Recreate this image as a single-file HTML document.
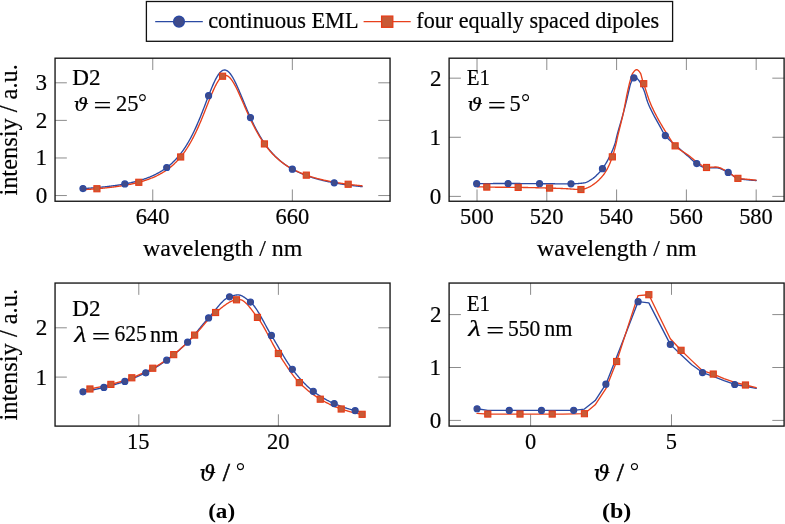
<!DOCTYPE html>
<html><head><meta charset="utf-8"><title>figure</title>
<style>html,body{margin:0;padding:0;background:#fff;width:785px;height:524px;overflow:hidden}text{fill:#000;stroke:#000;stroke-width:0.18px}text[font-weight=bold]{stroke-width:0}text.sl{stroke-width:0.55px}text.dg{stroke-width:0}</style>
</head><body>
<svg width="785" height="524" viewBox="0 0 785 524" font-family="'Liberation Serif', 'Times New Roman', serif" style="display:block">
<rect width="785" height="524" fill="#fff"/>
<rect x="146.4" y="1.5" width="526.2" height="39.8" fill="#fff" stroke="#111" stroke-width="1.3"/>
<line x1="155.2" y1="21.6" x2="202.8" y2="21.6" stroke="#2b4aa3" stroke-width="1.3"/>
<circle cx="179.0" cy="21.65" r="5.4" fill="#3f4b8a" stroke="#2a48a3" stroke-width="1.3"/>
<text transform="translate(208.15 27.55) scale(1.0127 1.0471)" font-size="22">continuous EML</text>
<line x1="363.6" y1="21.6" x2="410.7" y2="21.6" stroke="#e8401c" stroke-width="1.3"/>
<rect x="381.6" y="16.1" width="11.2" height="11.2" fill="#c85a36" stroke="#e53c18" stroke-width="1.3"/>
<text transform="translate(416.31 27.55) scale(1.0061 1.0040)" font-size="22">four equally spaced dipoles</text>
<line x1="152.76" y1="201.25" x2="152.76" y2="189.45" stroke="#8c8c8c" stroke-width="1"/>
<line x1="152.76" y1="58.20" x2="152.76" y2="70.00" stroke="#8c8c8c" stroke-width="1"/>
<line x1="292.34" y1="201.25" x2="292.34" y2="189.45" stroke="#8c8c8c" stroke-width="1"/>
<line x1="292.34" y1="58.20" x2="292.34" y2="70.00" stroke="#8c8c8c" stroke-width="1"/>
<line x1="55.05" y1="195.55" x2="66.85" y2="195.55" stroke="#8c8c8c" stroke-width="1"/>
<line x1="390.05" y1="195.55" x2="378.25" y2="195.55" stroke="#8c8c8c" stroke-width="1"/>
<line x1="55.05" y1="157.97" x2="66.85" y2="157.97" stroke="#8c8c8c" stroke-width="1"/>
<line x1="390.05" y1="157.97" x2="378.25" y2="157.97" stroke="#8c8c8c" stroke-width="1"/>
<line x1="55.05" y1="120.39" x2="66.85" y2="120.39" stroke="#8c8c8c" stroke-width="1"/>
<line x1="390.05" y1="120.39" x2="378.25" y2="120.39" stroke="#8c8c8c" stroke-width="1"/>
<line x1="55.05" y1="82.81" x2="66.85" y2="82.81" stroke="#8c8c8c" stroke-width="1"/>
<line x1="390.05" y1="82.81" x2="378.25" y2="82.81" stroke="#8c8c8c" stroke-width="1"/>
<path d="M82.97,188.61 L83.53,188.57 L84.09,188.54 L84.65,188.50 L85.20,188.46 L85.76,188.43 L86.32,188.39 L86.88,188.35 L87.44,188.31 L88.00,188.27 L88.56,188.23 L89.12,188.19 L89.68,188.15 L90.24,188.11 L90.80,188.07 L91.36,188.02 L91.92,187.98 L92.48,187.94 L93.04,187.89 L93.60,187.85 L94.16,187.80 L94.72,187.75 L95.27,187.71 L95.83,187.66 L96.39,187.61 L96.95,187.56 L97.51,187.51 L98.07,187.46 L98.63,187.41 L99.19,187.36 L99.75,187.31 L100.31,187.25 L100.87,187.20 L101.43,187.14 L101.99,187.09 L102.55,187.03 L103.11,186.98 L103.67,186.92 L104.23,186.86 L104.79,186.80 L105.34,186.74 L105.90,186.68 L106.46,186.61 L107.02,186.55 L107.58,186.49 L108.14,186.42 L108.70,186.35 L109.26,186.29 L109.82,186.22 L110.38,186.15 L110.94,186.08 L111.50,186.01 L112.06,185.94 L112.62,185.86 L113.18,185.79 L113.74,185.71 L114.30,185.64 L114.86,185.56 L115.41,185.48 L115.97,185.40 L116.53,185.32 L117.09,185.23 L117.65,185.15 L118.21,185.06 L118.77,184.98 L119.33,184.89 L119.89,184.80 L120.45,184.71 L121.01,184.61 L121.57,184.52 L122.13,184.42 L122.69,184.33 L123.25,184.23 L123.81,184.13 L124.37,184.02 L124.93,183.92 L125.49,183.82 L126.04,183.71 L126.60,183.60 L127.16,183.49 L127.72,183.38 L128.28,183.26 L128.84,183.15 L129.40,183.03 L129.96,182.91 L130.52,182.79 L131.08,182.66 L131.64,182.53 L132.20,182.41 L132.76,182.28 L133.32,182.14 L133.88,182.01 L134.44,181.87 L135.00,181.73 L135.56,181.59 L136.11,181.44 L136.67,181.29 L137.23,181.14 L137.79,180.99 L138.35,180.84 L138.91,180.68 L139.47,180.52 L140.03,180.35 L140.59,180.19 L141.15,180.02 L141.71,179.84 L142.27,179.67 L142.83,179.49 L143.39,179.30 L143.95,179.12 L144.51,178.93 L145.07,178.74 L145.63,178.54 L146.18,178.34 L146.74,178.13 L147.30,177.93 L147.86,177.71 L148.42,177.50 L148.98,177.28 L149.54,177.05 L150.10,176.83 L150.66,176.59 L151.22,176.35 L151.78,176.11 L152.34,175.87 L152.90,175.61 L153.46,175.36 L154.02,175.10 L154.58,174.83 L155.14,174.56 L155.70,174.28 L156.25,174.00 L156.81,173.71 L157.37,173.41 L157.93,173.11 L158.49,172.80 L159.05,172.49 L159.61,172.17 L160.17,171.85 L160.73,171.51 L161.29,171.17 L161.85,170.83 L162.41,170.47 L162.97,170.11 L163.53,169.74 L164.09,169.36 L164.65,168.98 L165.21,168.59 L165.77,168.19 L166.33,167.78 L166.88,167.36 L167.44,166.93 L168.00,166.49 L168.56,166.05 L169.12,165.59 L169.68,165.13 L170.24,164.65 L170.80,164.17 L171.36,163.67 L171.92,163.16 L172.48,162.64 L173.04,162.11 L173.60,161.57 L174.16,161.02 L174.72,160.45 L175.28,159.88 L175.84,159.29 L176.40,158.68 L176.95,158.07 L177.51,157.44 L178.07,156.79 L178.63,156.13 L179.19,155.46 L179.75,154.77 L180.31,154.07 L180.87,153.35 L181.43,152.62 L181.99,151.87 L182.55,151.10 L183.11,150.32 L183.67,149.52 L184.23,148.70 L184.79,147.87 L185.35,147.02 L185.91,146.15 L186.47,145.26 L187.02,144.35 L187.58,143.42 L188.14,142.48 L188.70,141.51 L189.26,140.53 L189.82,139.52 L190.38,138.50 L190.94,137.45 L191.50,136.39 L192.06,135.30 L192.62,134.20 L193.18,133.07 L193.74,131.93 L194.30,130.76 L194.86,129.57 L195.42,128.36 L195.98,127.14 L196.54,125.89 L197.09,124.62 L197.65,123.34 L198.21,122.03 L198.77,120.71 L199.33,119.37 L199.89,118.02 L200.45,116.64 L201.01,115.26 L201.57,113.86 L202.13,112.44 L202.69,111.02 L203.25,109.58 L203.81,108.13 L204.37,106.68 L204.93,105.22 L205.49,103.76 L206.05,102.29 L206.61,100.83 L207.17,99.36 L207.72,97.91 L208.28,96.45 L208.84,95.01 L209.40,93.58 L209.96,92.16 L210.52,90.76 L211.08,89.38 L211.64,88.02 L212.20,86.69 L212.76,85.38 L213.32,84.11 L213.88,82.88 L214.44,81.69 L215.00,80.53 L215.56,79.42 L216.12,78.36 L216.68,77.36 L217.24,76.40 L217.79,75.50 L218.35,74.67 L218.91,73.89 L219.47,73.18 L220.03,72.54 L220.59,71.97 L221.15,71.46 L221.71,71.03 L222.27,70.68 L222.83,70.40 L223.39,70.19 L223.95,70.06 L224.51,70.01 L225.07,70.03 L225.63,70.13 L226.19,70.31 L226.75,70.56 L227.31,70.88 L227.86,71.27 L228.42,71.74 L228.98,72.27 L229.54,72.87 L230.10,73.53 L230.66,74.25 L231.22,75.04 L231.78,75.88 L232.34,76.77 L232.90,77.71 L233.46,78.71 L234.02,79.74 L234.58,80.82 L235.14,81.93 L235.70,83.09 L236.26,84.27 L236.82,85.48 L237.38,86.72 L237.93,87.99 L238.49,89.27 L239.05,90.57 L239.61,91.89 L240.17,93.22 L240.73,94.56 L241.29,95.91 L241.85,97.26 L242.41,98.62 L242.97,99.98 L243.53,101.34 L244.09,102.70 L244.65,104.06 L245.21,105.41 L245.77,106.75 L246.33,108.08 L246.89,109.41 L247.45,110.73 L248.01,112.03 L248.56,113.32 L249.12,114.60 L249.68,115.87 L250.24,117.12 L250.80,118.36 L251.36,119.58 L251.92,120.78 L252.48,121.97 L253.04,123.14 L253.60,124.30 L254.16,125.43 L254.72,126.55 L255.28,127.66 L255.84,128.74 L256.40,129.81 L256.96,130.86 L257.52,131.89 L258.08,132.90 L258.63,133.90 L259.19,134.88 L259.75,135.84 L260.31,136.78 L260.87,137.70 L261.43,138.61 L261.99,139.51 L262.55,140.38 L263.11,141.24 L263.67,142.08 L264.23,142.91 L264.79,143.72 L265.35,144.52 L265.91,145.30 L266.47,146.06 L267.03,146.81 L267.59,147.55 L268.15,148.27 L268.70,148.98 L269.26,149.67 L269.82,150.35 L270.38,151.02 L270.94,151.67 L271.50,152.31 L272.06,152.94 L272.62,153.56 L273.18,154.16 L273.74,154.75 L274.30,155.33 L274.86,155.90 L275.42,156.46 L275.98,157.01 L276.54,157.55 L277.10,158.07 L277.66,158.59 L278.22,159.09 L278.77,159.59 L279.33,160.08 L279.89,160.56 L280.45,161.03 L281.01,161.49 L281.57,161.94 L282.13,162.38 L282.69,162.81 L283.25,163.24 L283.81,163.66 L284.37,164.07 L284.93,164.47 L285.49,164.87 L286.05,165.26 L286.61,165.64 L287.17,166.01 L287.73,166.38 L288.29,166.74 L288.85,167.09 L289.40,167.44 L289.96,167.78 L290.52,168.12 L291.08,168.45 L291.64,168.77 L292.20,169.09 L292.76,169.40 L293.32,169.71 L293.88,170.01 L294.44,170.30 L295.00,170.60 L295.56,170.88 L296.12,171.16 L296.68,171.44 L297.24,171.71 L297.80,171.98 L298.36,172.24 L298.92,172.50 L299.47,172.75 L300.03,173.00 L300.59,173.25 L301.15,173.49 L301.71,173.73 L302.27,173.96 L302.83,174.19 L303.39,174.42 L303.95,174.64 L304.51,174.86 L305.07,175.07 L305.63,175.28 L306.19,175.49 L306.75,175.70 L307.31,175.90 L307.87,176.10 L308.43,176.30 L308.99,176.49 L309.54,176.68 L310.10,176.87 L310.66,177.05 L311.22,177.23 L311.78,177.41 L312.34,177.59 L312.90,177.76 L313.46,177.93 L314.02,178.10 L314.58,178.26 L315.14,178.43 L315.70,178.59 L316.26,178.75 L316.82,178.90 L317.38,179.06 L317.94,179.21 L318.50,179.36 L319.06,179.51 L319.61,179.65 L320.17,179.80 L320.73,179.94 L321.29,180.08 L321.85,180.21 L322.41,180.35 L322.97,180.48 L323.53,180.62 L324.09,180.75 L324.65,180.87 L325.21,181.00 L325.77,181.13 L326.33,181.25 L326.89,181.37 L327.45,181.49 L328.01,181.61 L328.57,181.73 L329.13,181.84 L329.69,181.96 L330.24,182.07 L330.80,182.18 L331.36,182.29 L331.92,182.40 L332.48,182.50 L333.04,182.61 L333.60,182.71 L334.16,182.82 L334.72,182.92 L335.28,183.02 L335.84,183.12 L336.40,183.22 L336.96,183.31 L337.52,183.41 L338.08,183.50 L338.64,183.60 L339.20,183.69 L339.76,183.78 L340.31,183.87 L340.87,183.96 L341.43,184.05 L341.99,184.13 L342.55,184.22 L343.11,184.30 L343.67,184.39 L344.23,184.47 L344.79,184.55 L345.35,184.63 L345.91,184.71 L346.47,184.79 L347.03,184.87 L347.59,184.95 L348.15,185.02 L348.71,185.10 L349.27,185.17 L349.83,185.25 L350.38,185.32 L350.94,185.39 L351.50,185.47 L352.06,185.54 L352.62,185.61 L353.18,185.68 L353.74,185.74 L354.30,185.81 L354.86,185.88 L355.42,185.95 L355.98,186.01 L356.54,186.08 L357.10,186.14 L357.66,186.20 L358.22,186.27 L358.78,186.33 L359.34,186.39 L359.90,186.45 L360.45,186.51 L361.01,186.57 L361.57,186.63 L362.13,186.69" fill="none" stroke="#2b4aa3" stroke-width="1.35" stroke-linejoin="round" stroke-linecap="round"/>
<path d="M82.97,189.73 L83.53,189.69 L84.09,189.66 L84.65,189.62 L85.20,189.59 L85.76,189.55 L86.32,189.51 L86.88,189.48 L87.44,189.44 L88.00,189.40 L88.56,189.36 L89.12,189.33 L89.68,189.29 L90.24,189.25 L90.80,189.21 L91.36,189.17 L91.92,189.12 L92.48,189.08 L93.04,189.04 L93.60,189.00 L94.16,188.95 L94.72,188.91 L95.27,188.86 L95.83,188.82 L96.39,188.77 L96.95,188.73 L97.51,188.68 L98.07,188.63 L98.63,188.58 L99.19,188.53 L99.75,188.48 L100.31,188.43 L100.87,188.38 L101.43,188.33 L101.99,188.28 L102.55,188.22 L103.11,188.17 L103.67,188.11 L104.23,188.06 L104.79,188.00 L105.34,187.94 L105.90,187.88 L106.46,187.83 L107.02,187.77 L107.58,187.70 L108.14,187.64 L108.70,187.58 L109.26,187.52 L109.82,187.45 L110.38,187.39 L110.94,187.32 L111.50,187.25 L112.06,187.19 L112.62,187.12 L113.18,187.05 L113.74,186.97 L114.30,186.90 L114.86,186.83 L115.41,186.75 L115.97,186.68 L116.53,186.60 L117.09,186.52 L117.65,186.44 L118.21,186.36 L118.77,186.28 L119.33,186.20 L119.89,186.11 L120.45,186.03 L121.01,185.94 L121.57,185.85 L122.13,185.76 L122.69,185.67 L123.25,185.58 L123.81,185.49 L124.37,185.39 L124.93,185.29 L125.49,185.19 L126.04,185.09 L126.60,184.99 L127.16,184.89 L127.72,184.78 L128.28,184.68 L128.84,184.57 L129.40,184.46 L129.96,184.34 L130.52,184.23 L131.08,184.11 L131.64,183.99 L132.20,183.87 L132.76,183.75 L133.32,183.63 L133.88,183.50 L134.44,183.37 L135.00,183.24 L135.56,183.11 L136.11,182.97 L136.67,182.84 L137.23,182.70 L137.79,182.55 L138.35,182.41 L138.91,182.26 L139.47,182.11 L140.03,181.96 L140.59,181.80 L141.15,181.64 L141.71,181.48 L142.27,181.32 L142.83,181.15 L143.39,180.98 L143.95,180.80 L144.51,180.63 L145.07,180.45 L145.63,180.26 L146.18,180.08 L146.74,179.89 L147.30,179.69 L147.86,179.49 L148.42,179.29 L148.98,179.09 L149.54,178.88 L150.10,178.66 L150.66,178.45 L151.22,178.23 L151.78,178.00 L152.34,177.77 L152.90,177.53 L153.46,177.30 L154.02,177.05 L154.58,176.80 L155.14,176.55 L155.70,176.29 L156.25,176.02 L156.81,175.76 L157.37,175.48 L157.93,175.20 L158.49,174.91 L159.05,174.62 L159.61,174.32 L160.17,174.02 L160.73,173.71 L161.29,173.39 L161.85,173.07 L162.41,172.74 L162.97,172.40 L163.53,172.05 L164.09,171.70 L164.65,171.34 L165.21,170.98 L165.77,170.60 L166.33,170.22 L166.88,169.83 L167.44,169.43 L168.00,169.02 L168.56,168.61 L169.12,168.18 L169.68,167.75 L170.24,167.30 L170.80,166.85 L171.36,166.38 L171.92,165.91 L172.48,165.42 L173.04,164.93 L173.60,164.42 L174.16,163.90 L174.72,163.38 L175.28,162.84 L175.84,162.28 L176.40,161.72 L176.95,161.14 L177.51,160.55 L178.07,159.95 L178.63,159.33 L179.19,158.70 L179.75,158.05 L180.31,157.40 L180.87,156.72 L181.43,156.03 L181.99,155.33 L182.55,154.61 L183.11,153.88 L183.67,153.13 L184.23,152.36 L184.79,151.57 L185.35,150.77 L185.91,149.95 L186.47,149.12 L187.02,148.26 L187.58,147.39 L188.14,146.50 L188.70,145.59 L189.26,144.66 L189.82,143.71 L190.38,142.75 L190.94,141.76 L191.50,140.75 L192.06,139.73 L192.62,138.68 L193.18,137.62 L193.74,136.53 L194.30,135.43 L194.86,134.30 L195.42,133.15 L195.98,131.99 L196.54,130.80 L197.09,129.60 L197.65,128.38 L198.21,127.14 L198.77,125.88 L199.33,124.60 L199.89,123.30 L200.45,121.99 L201.01,120.66 L201.57,119.32 L202.13,117.97 L202.69,116.60 L203.25,115.22 L203.81,113.83 L204.37,112.43 L204.93,111.02 L205.49,109.61 L206.05,108.19 L206.61,106.77 L207.17,105.35 L207.72,103.93 L208.28,102.51 L208.84,101.10 L209.40,99.70 L209.96,98.31 L210.52,96.94 L211.08,95.58 L211.64,94.24 L212.20,92.92 L212.76,91.63 L213.32,90.36 L213.88,89.13 L214.44,87.93 L215.00,86.77 L215.56,85.65 L216.12,84.57 L216.68,83.54 L217.24,82.56 L217.79,81.64 L218.35,80.76 L218.91,79.95 L219.47,79.20 L220.03,78.50 L220.59,77.88 L221.15,77.32 L221.71,76.83 L222.27,76.40 L222.83,76.05 L223.39,75.78 L223.95,75.57 L224.51,75.44 L225.07,75.38 L225.63,75.40 L226.19,75.48 L226.75,75.64 L227.31,75.88 L227.86,76.18 L228.42,76.55 L228.98,76.99 L229.54,77.49 L230.10,78.06 L230.66,78.69 L231.22,79.37 L231.78,80.12 L232.34,80.91 L232.90,81.76 L233.46,82.66 L234.02,83.60 L234.58,84.58 L235.14,85.60 L235.70,86.66 L236.26,87.76 L236.82,88.88 L237.38,90.03 L237.93,91.21 L238.49,92.41 L239.05,93.63 L239.61,94.86 L240.17,96.11 L240.73,97.37 L241.29,98.64 L241.85,99.92 L242.41,101.21 L242.97,102.49 L243.53,103.78 L244.09,105.07 L244.65,106.36 L245.21,107.64 L245.77,108.92 L246.33,110.19 L246.89,111.46 L247.45,112.71 L248.01,113.96 L248.56,115.20 L249.12,116.42 L249.68,117.63 L250.24,118.83 L250.80,120.01 L251.36,121.19 L251.92,122.34 L252.48,123.48 L253.04,124.61 L253.60,125.72 L254.16,126.81 L254.72,127.88 L255.28,128.94 L255.84,129.99 L256.40,131.01 L256.96,132.02 L257.52,133.02 L258.08,133.99 L258.63,134.95 L259.19,135.89 L259.75,136.82 L260.31,137.73 L260.87,138.62 L261.43,139.50 L261.99,140.36 L262.55,141.20 L263.11,142.03 L263.67,142.85 L264.23,143.64 L264.79,144.43 L265.35,145.19 L265.91,145.95 L266.47,146.69 L267.03,147.41 L267.59,148.12 L268.15,148.82 L268.70,149.50 L269.26,150.17 L269.82,150.83 L270.38,151.47 L270.94,152.10 L271.50,152.72 L272.06,153.33 L272.62,153.92 L273.18,154.51 L273.74,155.08 L274.30,155.64 L274.86,156.19 L275.42,156.73 L275.98,157.26 L276.54,157.78 L277.10,158.29 L277.66,158.79 L278.22,159.28 L278.77,159.76 L279.33,160.23 L279.89,160.69 L280.45,161.14 L281.01,161.59 L281.57,162.02 L282.13,162.45 L282.69,162.87 L283.25,163.28 L283.81,163.69 L284.37,164.09 L284.93,164.47 L285.49,164.86 L286.05,165.23 L286.61,165.60 L287.17,165.96 L287.73,166.32 L288.29,166.66 L288.85,167.01 L289.40,167.34 L289.96,167.67 L290.52,168.00 L291.08,168.31 L291.64,168.63 L292.20,168.93 L292.76,169.23 L293.32,169.53 L293.88,169.82 L294.44,170.11 L295.00,170.39 L295.56,170.66 L296.12,170.94 L296.68,171.20 L297.24,171.46 L297.80,171.72 L298.36,171.98 L298.92,172.22 L299.47,172.47 L300.03,172.71 L300.59,172.95 L301.15,173.18 L301.71,173.41 L302.27,173.63 L302.83,173.86 L303.39,174.07 L303.95,174.29 L304.51,174.50 L305.07,174.71 L305.63,174.91 L306.19,175.11 L306.75,175.31 L307.31,175.50 L307.87,175.70 L308.43,175.89 L308.99,176.07 L309.54,176.25 L310.10,176.43 L310.66,176.61 L311.22,176.79 L311.78,176.96 L312.34,177.13 L312.90,177.29 L313.46,177.46 L314.02,177.62 L314.58,177.78 L315.14,177.94 L315.70,178.09 L316.26,178.24 L316.82,178.39 L317.38,178.54 L317.94,178.69 L318.50,178.83 L319.06,178.97 L319.61,179.11 L320.17,179.25 L320.73,179.39 L321.29,179.52 L321.85,179.65 L322.41,179.78 L322.97,179.91 L323.53,180.04 L324.09,180.16 L324.65,180.29 L325.21,180.41 L325.77,180.53 L326.33,180.65 L326.89,180.76 L327.45,180.88 L328.01,180.99 L328.57,181.10 L329.13,181.21 L329.69,181.32 L330.24,181.43 L330.80,181.54 L331.36,181.64 L331.92,181.74 L332.48,181.85 L333.04,181.95 L333.60,182.05 L334.16,182.15 L334.72,182.24 L335.28,182.34 L335.84,182.43 L336.40,182.53 L336.96,182.62 L337.52,182.71 L338.08,182.80 L338.64,182.89 L339.20,182.98 L339.76,183.06 L340.31,183.15 L340.87,183.23 L341.43,183.32 L341.99,183.40 L342.55,183.48 L343.11,183.56 L343.67,183.64 L344.23,183.72 L344.79,183.80 L345.35,183.87 L345.91,183.95 L346.47,184.03 L347.03,184.10 L347.59,184.17 L348.15,184.25 L348.71,184.32 L349.27,184.39 L349.83,184.46 L350.38,184.53 L350.94,184.60 L351.50,184.66 L352.06,184.73 L352.62,184.80 L353.18,184.86 L353.74,184.93 L354.30,184.99 L354.86,185.06 L355.42,185.12 L355.98,185.18 L356.54,185.24 L357.10,185.30 L357.66,185.36 L358.22,185.42 L358.78,185.48 L359.34,185.54 L359.90,185.60 L360.45,185.65 L361.01,185.71 L361.57,185.77 L362.13,185.82" fill="none" stroke="#e8401c" stroke-width="1.35" stroke-linejoin="round" stroke-linecap="round"/>
<circle cx="82.97" cy="188.61" r="3.05" fill="#3f4b8a" stroke="#2a48a3" stroke-width="1.1"/>
<circle cx="124.84" cy="183.94" r="3.05" fill="#3f4b8a" stroke="#2a48a3" stroke-width="1.1"/>
<circle cx="166.72" cy="167.48" r="3.05" fill="#3f4b8a" stroke="#2a48a3" stroke-width="1.1"/>
<circle cx="208.59" cy="95.66" r="3.05" fill="#3f4b8a" stroke="#2a48a3" stroke-width="1.1"/>
<circle cx="250.47" cy="117.62" r="3.05" fill="#3f4b8a" stroke="#2a48a3" stroke-width="1.1"/>
<circle cx="292.34" cy="169.17" r="3.05" fill="#3f4b8a" stroke="#2a48a3" stroke-width="1.1"/>
<circle cx="334.22" cy="182.83" r="3.05" fill="#3f4b8a" stroke="#2a48a3" stroke-width="1.1"/>
<rect x="93.88" y="185.68" width="6.10" height="6.10" fill="#c85a36" stroke="#e53c18" stroke-width="1.1"/>
<rect x="135.75" y="179.24" width="6.10" height="6.10" fill="#c85a36" stroke="#e53c18" stroke-width="1.1"/>
<rect x="177.62" y="153.91" width="6.10" height="6.10" fill="#c85a36" stroke="#e53c18" stroke-width="1.1"/>
<rect x="219.50" y="73.17" width="6.10" height="6.10" fill="#c85a36" stroke="#e53c18" stroke-width="1.1"/>
<rect x="261.38" y="140.87" width="6.10" height="6.10" fill="#c85a36" stroke="#e53c18" stroke-width="1.1"/>
<rect x="303.25" y="172.10" width="6.10" height="6.10" fill="#c85a36" stroke="#e53c18" stroke-width="1.1"/>
<rect x="345.12" y="181.20" width="6.10" height="6.10" fill="#c85a36" stroke="#e53c18" stroke-width="1.1"/>
<rect x="55.05" y="58.20" width="335.00" height="143.05" fill="none" stroke="#151515" stroke-width="1.35"/>
<text transform="translate(135.87 224.18) scale(1.0200 1.0101)" font-size="22">640</text>
<text transform="translate(275.46 224.18) scale(1.0200 1.0101)" font-size="22">660</text>
<text transform="translate(35.73 202.83) scale(1.0500 1.0101)" font-size="22">0</text>
<text transform="translate(35.40 165.47) scale(1.0500 1.0331)" font-size="22">1</text>
<text transform="translate(35.85 127.89) scale(1.0500 1.0299)" font-size="22">2</text>
<text transform="translate(35.62 90.09) scale(1.0500 1.0146)" font-size="22">3</text>
<line x1="477.02" y1="201.25" x2="477.02" y2="189.45" stroke="#8c8c8c" stroke-width="1"/>
<line x1="477.02" y1="58.20" x2="477.02" y2="70.00" stroke="#8c8c8c" stroke-width="1"/>
<line x1="546.81" y1="201.25" x2="546.81" y2="189.45" stroke="#8c8c8c" stroke-width="1"/>
<line x1="546.81" y1="58.20" x2="546.81" y2="70.00" stroke="#8c8c8c" stroke-width="1"/>
<line x1="616.60" y1="201.25" x2="616.60" y2="189.45" stroke="#8c8c8c" stroke-width="1"/>
<line x1="616.60" y1="58.20" x2="616.60" y2="70.00" stroke="#8c8c8c" stroke-width="1"/>
<line x1="686.39" y1="201.25" x2="686.39" y2="189.45" stroke="#8c8c8c" stroke-width="1"/>
<line x1="686.39" y1="58.20" x2="686.39" y2="70.00" stroke="#8c8c8c" stroke-width="1"/>
<line x1="756.18" y1="201.25" x2="756.18" y2="189.45" stroke="#8c8c8c" stroke-width="1"/>
<line x1="756.18" y1="58.20" x2="756.18" y2="70.00" stroke="#8c8c8c" stroke-width="1"/>
<line x1="449.10" y1="196.38" x2="460.90" y2="196.38" stroke="#8c8c8c" stroke-width="1"/>
<line x1="784.10" y1="196.38" x2="772.30" y2="196.38" stroke="#8c8c8c" stroke-width="1"/>
<line x1="449.10" y1="137.27" x2="460.90" y2="137.27" stroke="#8c8c8c" stroke-width="1"/>
<line x1="784.10" y1="137.27" x2="772.30" y2="137.27" stroke="#8c8c8c" stroke-width="1"/>
<line x1="449.10" y1="78.16" x2="460.90" y2="78.16" stroke="#8c8c8c" stroke-width="1"/>
<line x1="784.10" y1="78.16" x2="772.30" y2="78.16" stroke="#8c8c8c" stroke-width="1"/>
<path d="M477.02,183.70 L477.58,183.69 L478.14,183.69 L478.70,183.68 L479.25,183.67 L479.81,183.67 L480.37,183.66 L480.93,183.65 L481.49,183.65 L482.05,183.64 L482.61,183.63 L483.17,183.63 L483.73,183.62 L484.29,183.62 L484.85,183.61 L485.41,183.61 L485.97,183.60 L486.53,183.59 L487.09,183.59 L487.65,183.58 L488.21,183.58 L488.77,183.58 L489.32,183.57 L489.88,183.57 L490.44,183.56 L491.00,183.56 L491.56,183.55 L492.12,183.55 L492.68,183.55 L493.24,183.54 L493.80,183.54 L494.36,183.54 L494.92,183.53 L495.48,183.53 L496.04,183.53 L496.60,183.52 L497.16,183.52 L497.72,183.52 L498.28,183.52 L498.84,183.51 L499.39,183.51 L499.95,183.51 L500.51,183.51 L501.07,183.51 L501.63,183.50 L502.19,183.50 L502.75,183.50 L503.31,183.50 L503.87,183.50 L504.43,183.50 L504.99,183.50 L505.55,183.50 L506.11,183.50 L506.67,183.49 L507.23,183.49 L507.79,183.49 L508.35,183.49 L508.91,183.49 L509.46,183.49 L510.02,183.50 L510.58,183.50 L511.14,183.50 L511.70,183.50 L512.26,183.50 L512.82,183.50 L513.38,183.50 L513.94,183.51 L514.50,183.51 L515.06,183.51 L515.62,183.51 L516.18,183.52 L516.74,183.52 L517.30,183.52 L517.86,183.53 L518.42,183.53 L518.98,183.54 L519.54,183.54 L520.09,183.54 L520.65,183.55 L521.21,183.55 L521.77,183.56 L522.33,183.56 L522.89,183.57 L523.45,183.57 L524.01,183.57 L524.57,183.58 L525.13,183.58 L525.69,183.59 L526.25,183.59 L526.81,183.60 L527.37,183.60 L527.93,183.61 L528.49,183.61 L529.05,183.62 L529.61,183.62 L530.16,183.63 L530.72,183.63 L531.28,183.64 L531.84,183.64 L532.40,183.65 L532.96,183.65 L533.52,183.66 L534.08,183.66 L534.64,183.67 L535.20,183.67 L535.76,183.67 L536.32,183.68 L536.88,183.68 L537.44,183.69 L538.00,183.69 L538.56,183.69 L539.12,183.70 L539.68,183.70 L540.23,183.70 L540.79,183.71 L541.35,183.71 L541.91,183.71 L542.47,183.72 L543.03,183.72 L543.59,183.72 L544.15,183.73 L544.71,183.73 L545.27,183.73 L545.83,183.74 L546.39,183.74 L546.95,183.74 L547.51,183.75 L548.07,183.75 L548.63,183.75 L549.19,183.76 L549.75,183.76 L550.30,183.76 L550.86,183.77 L551.42,183.77 L551.98,183.78 L552.54,183.78 L553.10,183.78 L553.66,183.79 L554.22,183.79 L554.78,183.79 L555.34,183.80 L555.90,183.80 L556.46,183.80 L557.02,183.80 L557.58,183.81 L558.14,183.81 L558.70,183.81 L559.26,183.82 L559.82,183.82 L560.38,183.82 L560.93,183.82 L561.49,183.83 L562.05,183.83 L562.61,183.83 L563.17,183.83 L563.73,183.83 L564.29,183.84 L564.85,183.84 L565.41,183.84 L565.97,183.84 L566.53,183.84 L567.09,183.84 L567.65,183.85 L568.21,183.85 L568.77,183.85 L569.33,183.85 L569.89,183.85 L570.45,183.85 L571.00,183.85 L571.56,183.85 L572.12,183.84 L572.68,183.84 L573.24,183.82 L573.80,183.81 L574.36,183.79 L574.92,183.76 L575.48,183.73 L576.04,183.70 L576.60,183.67 L577.16,183.63 L577.72,183.59 L578.28,183.54 L578.84,183.50 L579.40,183.45 L579.96,183.39 L580.52,183.33 L581.07,183.27 L581.63,183.21 L582.19,183.14 L582.75,183.08 L583.31,183.00 L583.87,182.93 L584.43,182.85 L584.99,182.72 L585.55,182.56 L586.11,182.36 L586.67,182.14 L587.23,181.88 L587.79,181.60 L588.35,181.30 L588.91,180.99 L589.47,180.66 L590.03,180.32 L590.59,179.98 L591.14,179.63 L591.70,179.28 L592.26,178.92 L592.82,178.53 L593.38,178.10 L593.94,177.65 L594.50,177.17 L595.06,176.68 L595.62,176.17 L596.18,175.64 L596.74,175.11 L597.30,174.57 L597.86,174.02 L598.42,173.45 L598.98,172.85 L599.54,172.24 L600.10,171.61 L600.66,170.95 L601.22,170.27 L601.77,169.56 L602.33,168.82 L602.89,168.06 L603.45,167.26 L604.01,166.43 L604.57,165.57 L605.13,164.68 L605.69,163.76 L606.25,162.80 L606.81,161.82 L607.37,160.82 L607.93,159.78 L608.49,158.72 L609.05,157.63 L609.61,156.54 L610.17,155.43 L610.73,154.28 L611.29,153.10 L611.84,151.87 L612.40,150.58 L612.96,149.22 L613.52,147.78 L614.08,146.25 L614.64,144.63 L615.20,142.89 L615.76,140.75 L616.32,138.25 L616.88,135.92 L617.44,133.79 L618.00,131.74 L618.56,129.75 L619.12,127.80 L619.68,125.88 L620.24,123.98 L620.80,122.08 L621.36,120.16 L621.91,118.22 L622.47,116.23 L623.03,114.19 L623.59,112.09 L624.15,109.94 L624.71,107.76 L625.27,105.54 L625.83,103.30 L626.39,101.03 L626.95,98.75 L627.51,96.42 L628.07,94.03 L628.63,91.64 L629.19,89.25 L629.75,86.73 L630.31,84.52 L630.87,83.00 L631.43,81.67 L631.98,80.47 L632.54,79.44 L633.10,78.60 L633.66,77.98 L634.22,77.60 L634.78,77.32 L635.34,77.29 L635.90,77.48 L636.46,77.84 L637.02,78.34 L637.58,78.93 L638.14,79.59 L638.70,80.29 L639.26,80.98 L639.82,81.80 L640.38,82.79 L640.94,83.89 L641.50,85.05 L642.06,86.20 L642.61,87.34 L643.17,88.53 L643.73,89.81 L644.29,91.22 L644.85,92.87 L645.41,94.77 L645.97,96.78 L646.53,98.76 L647.09,100.58 L647.65,102.14 L648.21,103.56 L648.77,104.91 L649.33,106.19 L649.89,107.42 L650.45,108.61 L651.01,109.76 L651.57,110.89 L652.13,112.01 L652.68,113.13 L653.24,114.23 L653.80,115.31 L654.36,116.36 L654.92,117.39 L655.48,118.41 L656.04,119.41 L656.60,120.40 L657.16,121.39 L657.72,122.38 L658.28,123.36 L658.84,124.35 L659.40,125.35 L659.96,126.39 L660.52,127.43 L661.08,128.49 L661.64,129.53 L662.20,130.56 L662.75,131.57 L663.31,132.53 L663.87,133.45 L664.43,134.31 L664.99,135.11 L665.55,135.82 L666.11,136.49 L666.67,137.14 L667.23,137.75 L667.79,138.34 L668.35,138.90 L668.91,139.45 L669.47,139.98 L670.03,140.49 L670.59,140.99 L671.15,141.47 L671.71,141.95 L672.27,142.42 L672.82,142.89 L673.38,143.36 L673.94,143.82 L674.50,144.29 L675.06,144.77 L675.62,145.25 L676.18,145.74 L676.74,146.25 L677.30,146.75 L677.86,147.26 L678.42,147.76 L678.98,148.26 L679.54,148.76 L680.10,149.26 L680.66,149.75 L681.22,150.25 L681.78,150.74 L682.34,151.23 L682.90,151.72 L683.45,152.21 L684.01,152.70 L684.57,153.19 L685.13,153.68 L685.69,154.16 L686.25,154.65 L686.81,155.13 L687.37,155.62 L687.93,156.10 L688.49,156.59 L689.05,157.09 L689.61,157.60 L690.17,158.12 L690.73,158.64 L691.29,159.16 L691.85,159.67 L692.41,160.18 L692.97,160.68 L693.52,161.17 L694.08,161.64 L694.64,162.09 L695.20,162.52 L695.76,162.92 L696.32,163.29 L696.88,163.63 L697.44,163.98 L698.00,164.33 L698.56,164.68 L699.12,165.03 L699.68,165.38 L700.24,165.73 L700.80,166.06 L701.36,166.38 L701.92,166.68 L702.48,166.95 L703.04,167.21 L703.59,167.43 L704.15,167.62 L704.71,167.78 L705.27,167.90 L705.83,167.98 L706.39,168.01 L706.95,168.00 L707.51,168.00 L708.07,167.98 L708.63,167.97 L709.19,167.95 L709.75,167.92 L710.31,167.90 L710.87,167.87 L711.43,167.85 L711.99,167.82 L712.55,167.80 L713.11,167.77 L713.66,167.75 L714.22,167.74 L714.78,167.72 L715.34,167.71 L715.90,167.71 L716.46,167.73 L717.02,167.78 L717.58,167.86 L718.14,167.97 L718.70,168.11 L719.26,168.27 L719.82,168.45 L720.38,168.65 L720.94,168.87 L721.50,169.11 L722.06,169.36 L722.62,169.62 L723.18,169.89 L723.74,170.17 L724.29,170.46 L724.85,170.75 L725.41,171.04 L725.97,171.34 L726.53,171.63 L727.09,171.91 L727.65,172.19 L728.21,172.46 L728.77,172.76 L729.33,173.08 L729.89,173.45 L730.45,173.83 L731.01,174.24 L731.57,174.66 L732.13,175.08 L732.69,175.51 L733.25,175.94 L733.81,176.36 L734.36,176.76 L734.92,177.14 L735.48,177.49 L736.04,177.82 L736.60,178.10 L737.16,178.34 L737.72,178.53 L738.28,178.67 L738.84,178.78 L739.40,178.88 L739.96,178.98 L740.52,179.07 L741.08,179.15 L741.64,179.22 L742.20,179.29 L742.76,179.36 L743.32,179.42 L743.88,179.48 L744.43,179.54 L744.99,179.59 L745.55,179.65 L746.11,179.70 L746.67,179.75 L747.23,179.81 L747.79,179.86 L748.35,179.92 L748.91,179.97 L749.47,180.02 L750.03,180.07 L750.59,180.12 L751.15,180.17 L751.71,180.22 L752.27,180.26 L752.83,180.31 L753.39,180.35 L753.95,180.39 L754.50,180.43 L755.06,180.47 L755.62,180.50 L756.18,180.54" fill="none" stroke="#2b4aa3" stroke-width="1.35" stroke-linejoin="round" stroke-linecap="round"/>
<path d="M477.02,186.69 L477.58,186.71 L478.13,186.74 L478.69,186.77 L479.25,186.79 L479.81,186.82 L480.37,186.85 L480.93,186.87 L481.49,186.90 L482.05,186.92 L482.61,186.95 L483.17,186.97 L483.73,186.99 L484.28,187.01 L484.84,187.03 L485.40,187.05 L485.96,187.07 L486.52,187.08 L487.08,187.09 L487.64,187.10 L488.20,187.11 L488.76,187.12 L489.32,187.13 L489.87,187.14 L490.43,187.14 L490.99,187.15 L491.55,187.16 L492.11,187.17 L492.67,187.17 L493.23,187.18 L493.79,187.19 L494.35,187.19 L494.91,187.20 L495.46,187.20 L496.02,187.21 L496.58,187.21 L497.14,187.22 L497.70,187.22 L498.26,187.23 L498.82,187.23 L499.38,187.24 L499.94,187.24 L500.50,187.24 L501.06,187.25 L501.61,187.25 L502.17,187.26 L502.73,187.26 L503.29,187.26 L503.85,187.27 L504.41,187.27 L504.97,187.27 L505.53,187.28 L506.09,187.28 L506.65,187.28 L507.20,187.29 L507.76,187.29 L508.32,187.30 L508.88,187.30 L509.44,187.30 L510.00,187.31 L510.56,187.31 L511.12,187.32 L511.68,187.32 L512.24,187.32 L512.79,187.33 L513.35,187.33 L513.91,187.34 L514.47,187.35 L515.03,187.35 L515.59,187.36 L516.15,187.36 L516.71,187.37 L517.27,187.37 L517.83,187.38 L518.39,187.39 L518.94,187.40 L519.50,187.40 L520.06,187.41 L520.62,187.42 L521.18,187.43 L521.74,187.44 L522.30,187.45 L522.86,187.45 L523.42,187.46 L523.98,187.47 L524.53,187.48 L525.09,187.49 L525.65,187.50 L526.21,187.51 L526.77,187.52 L527.33,187.53 L527.89,187.54 L528.45,187.56 L529.01,187.57 L529.57,187.58 L530.12,187.59 L530.68,187.60 L531.24,187.61 L531.80,187.63 L532.36,187.64 L532.92,187.65 L533.48,187.66 L534.04,187.68 L534.60,187.69 L535.16,187.70 L535.72,187.72 L536.27,187.73 L536.83,187.74 L537.39,187.76 L537.95,187.77 L538.51,187.78 L539.07,187.80 L539.63,187.81 L540.19,187.83 L540.75,187.84 L541.31,187.86 L541.86,187.87 L542.42,187.89 L542.98,187.90 L543.54,187.92 L544.10,187.93 L544.66,187.95 L545.22,187.96 L545.78,187.98 L546.34,187.99 L546.90,188.01 L547.45,188.02 L548.01,188.04 L548.57,188.06 L549.13,188.07 L549.69,188.09 L550.25,188.10 L550.81,188.12 L551.37,188.14 L551.93,188.15 L552.49,188.17 L553.05,188.19 L553.60,188.21 L554.16,188.22 L554.72,188.24 L555.28,188.26 L555.84,188.28 L556.40,188.30 L556.96,188.32 L557.52,188.34 L558.08,188.36 L558.64,188.38 L559.19,188.40 L559.75,188.42 L560.31,188.44 L560.87,188.47 L561.43,188.49 L561.99,188.51 L562.55,188.53 L563.11,188.56 L563.67,188.58 L564.23,188.60 L564.78,188.63 L565.34,188.65 L565.90,188.68 L566.46,188.71 L567.02,188.75 L567.58,188.78 L568.14,188.82 L568.70,188.86 L569.26,188.90 L569.82,188.94 L570.38,188.98 L570.93,189.02 L571.49,189.06 L572.05,189.10 L572.61,189.14 L573.17,189.18 L573.73,189.22 L574.29,189.26 L574.85,189.30 L575.41,189.33 L575.97,189.37 L576.52,189.40 L577.08,189.43 L577.64,189.45 L578.20,189.47 L578.76,189.49 L579.32,189.50 L579.88,189.52 L580.44,189.52 L581.00,189.52 L581.56,189.50 L582.11,189.44 L582.67,189.34 L583.23,189.22 L583.79,189.08 L584.35,188.91 L584.91,188.73 L585.47,188.54 L586.03,188.34 L586.59,188.13 L587.15,187.92 L587.71,187.72 L588.26,187.49 L588.82,187.24 L589.38,186.96 L589.94,186.66 L590.50,186.34 L591.06,186.00 L591.62,185.65 L592.18,185.28 L592.74,184.89 L593.30,184.50 L593.85,184.10 L594.41,183.69 L594.97,183.27 L595.53,182.85 L596.09,182.41 L596.65,181.95 L597.21,181.47 L597.77,180.98 L598.33,180.47 L598.89,179.94 L599.44,179.39 L600.00,178.82 L600.56,178.23 L601.12,177.62 L601.68,176.99 L602.24,176.34 L602.80,175.67 L603.36,174.98 L603.92,174.24 L604.48,173.45 L605.04,172.61 L605.59,171.73 L606.15,170.80 L606.71,169.83 L607.27,168.82 L607.83,167.76 L608.39,166.64 L608.95,165.46 L609.51,164.22 L610.07,162.90 L610.63,161.52 L611.18,160.08 L611.74,158.56 L612.30,156.99 L612.86,155.31 L613.42,153.51 L613.98,151.60 L614.54,149.58 L615.10,147.48 L615.66,145.29 L616.22,143.03 L616.77,140.54 L617.33,137.89 L617.89,135.45 L618.45,133.10 L619.01,130.82 L619.57,128.58 L620.13,126.37 L620.69,124.15 L621.25,121.92 L621.81,119.64 L622.37,117.30 L622.92,114.87 L623.48,112.32 L624.04,109.59 L624.60,106.73 L625.16,103.78 L625.72,100.80 L626.28,97.85 L626.84,94.99 L627.40,92.27 L627.96,89.74 L628.51,87.30 L629.07,84.94 L629.63,82.70 L630.19,80.62 L630.75,78.69 L631.31,76.77 L631.87,75.02 L632.43,73.69 L632.99,72.84 L633.55,72.06 L634.10,71.35 L634.66,70.74 L635.22,70.25 L635.78,69.91 L636.34,69.73 L636.90,69.74 L637.46,69.92 L638.02,70.27 L638.58,70.77 L639.14,71.39 L639.70,72.12 L640.25,72.93 L640.81,73.94 L641.37,75.82 L641.93,78.08 L642.49,79.99 L643.05,81.64 L643.61,83.31 L644.17,85.03 L644.73,86.77 L645.29,88.49 L645.84,90.19 L646.40,91.92 L646.96,93.66 L647.52,95.38 L648.08,97.06 L648.64,98.69 L649.20,100.25 L649.76,101.70 L650.32,103.08 L650.88,104.41 L651.43,105.69 L651.99,106.94 L652.55,108.14 L653.11,109.32 L653.67,110.47 L654.23,111.61 L654.79,112.73 L655.35,113.84 L655.91,114.93 L656.47,116.00 L657.03,117.04 L657.58,118.07 L658.14,119.09 L658.70,120.09 L659.26,121.08 L659.82,122.06 L660.38,123.03 L660.94,124.00 L661.50,124.96 L662.06,125.91 L662.62,126.85 L663.17,127.79 L663.73,128.71 L664.29,129.63 L664.85,130.53 L665.41,131.43 L665.97,132.33 L666.53,133.21 L667.09,134.09 L667.65,134.96 L668.21,135.82 L668.76,136.70 L669.32,137.60 L669.88,138.51 L670.44,139.42 L671.00,140.32 L671.56,141.21 L672.12,142.06 L672.68,142.88 L673.24,143.66 L673.80,144.39 L674.36,145.05 L674.91,145.64 L675.47,146.19 L676.03,146.70 L676.59,147.20 L677.15,147.67 L677.71,148.12 L678.27,148.55 L678.83,148.96 L679.39,149.36 L679.95,149.75 L680.50,150.13 L681.06,150.49 L681.62,150.85 L682.18,151.21 L682.74,151.56 L683.30,151.91 L683.86,152.25 L684.42,152.61 L684.98,152.96 L685.54,153.32 L686.09,153.69 L686.65,154.07 L687.21,154.46 L687.77,154.86 L688.33,155.28 L688.89,155.71 L689.45,156.14 L690.01,156.59 L690.57,157.03 L691.13,157.48 L691.69,157.94 L692.24,158.39 L692.80,158.84 L693.36,159.29 L693.92,159.73 L694.48,160.17 L695.04,160.60 L695.60,161.02 L696.16,161.43 L696.72,161.82 L697.28,162.20 L697.83,162.58 L698.39,162.97 L698.95,163.38 L699.51,163.80 L700.07,164.23 L700.63,164.65 L701.19,165.07 L701.75,165.48 L702.31,165.87 L702.87,166.23 L703.42,166.55 L703.98,166.84 L704.54,167.08 L705.10,167.27 L705.66,167.40 L706.22,167.47 L706.78,167.47 L707.34,167.46 L707.90,167.45 L708.46,167.42 L709.02,167.39 L709.57,167.35 L710.13,167.32 L710.69,167.27 L711.25,167.23 L711.81,167.19 L712.37,167.15 L712.93,167.11 L713.49,167.08 L714.05,167.05 L714.61,167.03 L715.16,167.01 L715.72,167.00 L716.28,167.01 L716.84,167.06 L717.40,167.13 L717.96,167.24 L718.52,167.38 L719.08,167.55 L719.64,167.74 L720.20,167.95 L720.75,168.18 L721.31,168.43 L721.87,168.70 L722.43,168.98 L722.99,169.27 L723.55,169.57 L724.11,169.87 L724.67,170.19 L725.23,170.50 L725.79,170.81 L726.35,171.12 L726.90,171.43 L727.46,171.73 L728.02,172.02 L728.58,172.31 L729.14,172.64 L729.70,173.01 L730.26,173.40 L730.82,173.82 L731.38,174.25 L731.94,174.70 L732.49,175.14 L733.05,175.58 L733.61,176.01 L734.17,176.43 L734.73,176.83 L735.29,177.19 L735.85,177.53 L736.41,177.82 L736.97,178.07 L737.53,178.26 L738.08,178.39 L738.64,178.48 L739.20,178.56 L739.76,178.64 L740.32,178.70 L740.88,178.76 L741.44,178.81 L742.00,178.86 L742.56,178.91 L743.12,178.95 L743.68,178.99 L744.23,179.03 L744.79,179.07 L745.35,179.12 L745.91,179.16 L746.47,179.21 L747.03,179.26 L747.59,179.31 L748.15,179.37 L748.71,179.42 L749.27,179.48 L749.82,179.54 L750.38,179.59 L750.94,179.65 L751.50,179.71 L752.06,179.77 L752.62,179.83 L753.18,179.88 L753.74,179.94 L754.30,180.00 L754.86,180.06 L755.41,180.12 L755.97,180.18" fill="none" stroke="#e8401c" stroke-width="1.35" stroke-linejoin="round" stroke-linecap="round"/>
<circle cx="476.67" cy="183.71" r="3.05" fill="#3f4b8a" stroke="#2a48a3" stroke-width="1.1"/>
<circle cx="508.11" cy="183.49" r="3.05" fill="#3f4b8a" stroke="#2a48a3" stroke-width="1.1"/>
<circle cx="539.55" cy="183.70" r="3.05" fill="#3f4b8a" stroke="#2a48a3" stroke-width="1.1"/>
<circle cx="570.99" cy="183.85" r="3.05" fill="#3f4b8a" stroke="#2a48a3" stroke-width="1.1"/>
<circle cx="602.43" cy="168.69" r="3.05" fill="#3f4b8a" stroke="#2a48a3" stroke-width="1.1"/>
<circle cx="633.87" cy="77.82" r="3.05" fill="#3f4b8a" stroke="#2a48a3" stroke-width="1.1"/>
<circle cx="665.31" cy="135.53" r="3.05" fill="#3f4b8a" stroke="#2a48a3" stroke-width="1.1"/>
<circle cx="696.76" cy="163.56" r="3.05" fill="#3f4b8a" stroke="#2a48a3" stroke-width="1.1"/>
<circle cx="728.20" cy="172.46" r="3.05" fill="#3f4b8a" stroke="#2a48a3" stroke-width="1.1"/>
<rect x="483.74" y="184.04" width="6.10" height="6.10" fill="#c85a36" stroke="#e53c18" stroke-width="1.1"/>
<rect x="515.13" y="184.34" width="6.10" height="6.10" fill="#c85a36" stroke="#e53c18" stroke-width="1.1"/>
<rect x="546.52" y="185.03" width="6.10" height="6.10" fill="#c85a36" stroke="#e53c18" stroke-width="1.1"/>
<rect x="577.90" y="186.47" width="6.10" height="6.10" fill="#c85a36" stroke="#e53c18" stroke-width="1.1"/>
<rect x="609.29" y="153.82" width="6.10" height="6.10" fill="#c85a36" stroke="#e53c18" stroke-width="1.1"/>
<rect x="640.68" y="80.64" width="6.10" height="6.10" fill="#c85a36" stroke="#e53c18" stroke-width="1.1"/>
<rect x="672.07" y="142.80" width="6.10" height="6.10" fill="#c85a36" stroke="#e53c18" stroke-width="1.1"/>
<rect x="703.46" y="164.43" width="6.10" height="6.10" fill="#c85a36" stroke="#e53c18" stroke-width="1.1"/>
<rect x="734.85" y="175.31" width="6.10" height="6.10" fill="#c85a36" stroke="#e53c18" stroke-width="1.1"/>
<rect x="449.10" y="58.20" width="335.00" height="143.05" fill="none" stroke="#151515" stroke-width="1.35"/>
<text transform="translate(459.96 224.18) scale(1.0200 1.0101)" font-size="22">500</text>
<text transform="translate(529.75 224.18) scale(1.0200 1.0101)" font-size="22">520</text>
<text transform="translate(599.55 224.18) scale(1.0200 1.0101)" font-size="22">540</text>
<text transform="translate(669.34 224.18) scale(1.0200 1.0101)" font-size="22">560</text>
<text transform="translate(739.13 224.18) scale(1.0200 1.0101)" font-size="22">580</text>
<text transform="translate(429.78 203.66) scale(1.0500 1.0101)" font-size="22">0</text>
<text transform="translate(429.45 144.77) scale(1.0500 1.0331)" font-size="22">1</text>
<text transform="translate(429.90 85.66) scale(1.0500 1.0299)" font-size="22">2</text>
<line x1="138.80" y1="426.10" x2="138.80" y2="414.30" stroke="#8c8c8c" stroke-width="1"/>
<line x1="138.80" y1="283.05" x2="138.80" y2="294.85" stroke="#8c8c8c" stroke-width="1"/>
<line x1="278.38" y1="426.10" x2="278.38" y2="414.30" stroke="#8c8c8c" stroke-width="1"/>
<line x1="278.38" y1="283.05" x2="278.38" y2="294.85" stroke="#8c8c8c" stroke-width="1"/>
<line x1="55.05" y1="377.10" x2="66.85" y2="377.10" stroke="#8c8c8c" stroke-width="1"/>
<line x1="390.05" y1="377.10" x2="378.25" y2="377.10" stroke="#8c8c8c" stroke-width="1"/>
<line x1="55.05" y1="327.80" x2="66.85" y2="327.80" stroke="#8c8c8c" stroke-width="1"/>
<line x1="390.05" y1="327.80" x2="378.25" y2="327.80" stroke="#8c8c8c" stroke-width="1"/>
<path d="M82.97,391.79 L83.53,391.70 L84.09,391.60 L84.65,391.50 L85.20,391.40 L85.76,391.30 L86.32,391.19 L86.88,391.09 L87.44,390.99 L88.00,390.88 L88.56,390.77 L89.12,390.66 L89.68,390.55 L90.24,390.44 L90.80,390.33 L91.36,390.22 L91.92,390.10 L92.48,389.99 L93.04,389.87 L93.60,389.75 L94.16,389.63 L94.72,389.51 L95.27,389.39 L95.83,389.27 L96.39,389.15 L96.95,389.02 L97.51,388.90 L98.07,388.77 L98.63,388.64 L99.19,388.52 L99.75,388.39 L100.31,388.26 L100.87,388.13 L101.43,388.00 L101.99,387.86 L102.55,387.73 L103.11,387.60 L103.67,387.46 L104.23,387.33 L104.79,387.19 L105.34,387.05 L105.90,386.91 L106.46,386.77 L107.02,386.63 L107.58,386.49 L108.14,386.34 L108.70,386.20 L109.26,386.05 L109.82,385.90 L110.38,385.75 L110.94,385.60 L111.50,385.45 L112.06,385.30 L112.62,385.14 L113.18,384.98 L113.74,384.83 L114.30,384.67 L114.86,384.51 L115.41,384.35 L115.97,384.18 L116.53,384.02 L117.09,383.85 L117.65,383.68 L118.21,383.51 L118.77,383.34 L119.33,383.17 L119.89,383.00 L120.45,382.82 L121.01,382.64 L121.57,382.47 L122.13,382.29 L122.69,382.10 L123.25,381.92 L123.81,381.74 L124.37,381.55 L124.93,381.36 L125.49,381.17 L126.04,380.98 L126.60,380.78 L127.16,380.59 L127.72,380.39 L128.28,380.19 L128.84,379.99 L129.40,379.78 L129.96,379.58 L130.52,379.37 L131.08,379.16 L131.64,378.94 L132.20,378.73 L132.76,378.51 L133.32,378.29 L133.88,378.07 L134.44,377.85 L135.00,377.62 L135.56,377.39 L136.11,377.16 L136.67,376.93 L137.23,376.69 L137.79,376.46 L138.35,376.22 L138.91,375.98 L139.47,375.73 L140.03,375.48 L140.59,375.24 L141.15,374.98 L141.71,374.73 L142.27,374.47 L142.83,374.22 L143.39,373.95 L143.95,373.69 L144.51,373.43 L145.07,373.16 L145.63,372.89 L146.18,372.61 L146.74,372.33 L147.30,372.05 L147.86,371.77 L148.42,371.48 L148.98,371.19 L149.54,370.89 L150.10,370.59 L150.66,370.29 L151.22,369.99 L151.78,369.68 L152.34,369.36 L152.90,369.05 L153.46,368.73 L154.02,368.40 L154.58,368.08 L155.14,367.75 L155.70,367.41 L156.25,367.08 L156.81,366.74 L157.37,366.39 L157.93,366.05 L158.49,365.70 L159.05,365.34 L159.61,364.99 L160.17,364.63 L160.73,364.26 L161.29,363.90 L161.85,363.53 L162.41,363.16 L162.97,362.78 L163.53,362.40 L164.09,362.02 L164.65,361.64 L165.21,361.25 L165.77,360.86 L166.33,360.47 L166.88,360.07 L167.44,359.67 L168.00,359.26 L168.56,358.85 L169.12,358.44 L169.68,358.01 L170.24,357.59 L170.80,357.15 L171.36,356.72 L171.92,356.28 L172.48,355.83 L173.04,355.38 L173.60,354.92 L174.16,354.46 L174.72,354.00 L175.28,353.53 L175.84,353.06 L176.40,352.58 L176.95,352.10 L177.51,351.61 L178.07,351.12 L178.63,350.63 L179.19,350.13 L179.75,349.63 L180.31,349.12 L180.87,348.61 L181.43,348.10 L181.99,347.58 L182.55,347.06 L183.11,346.53 L183.67,346.01 L184.23,345.47 L184.79,344.94 L185.35,344.40 L185.91,343.86 L186.47,343.31 L187.02,342.77 L187.58,342.22 L188.14,341.66 L188.70,341.09 L189.26,340.51 L189.82,339.92 L190.38,339.31 L190.94,338.70 L191.50,338.08 L192.06,337.45 L192.62,336.81 L193.18,336.17 L193.74,335.52 L194.30,334.86 L194.86,334.20 L195.42,333.53 L195.98,332.86 L196.54,332.18 L197.09,331.51 L197.65,330.82 L198.21,330.14 L198.77,329.46 L199.33,328.77 L199.89,328.09 L200.45,327.40 L201.01,326.72 L201.57,326.04 L202.13,325.36 L202.69,324.69 L203.25,324.01 L203.81,323.35 L204.37,322.68 L204.93,322.02 L205.49,321.37 L206.05,320.73 L206.61,320.09 L207.17,319.46 L207.72,318.84 L208.28,318.22 L208.84,317.62 L209.40,317.00 L209.96,316.37 L210.52,315.73 L211.08,315.07 L211.64,314.41 L212.20,313.73 L212.76,313.06 L213.32,312.37 L213.88,311.68 L214.44,311.00 L215.00,310.30 L215.56,309.61 L216.12,308.93 L216.68,308.24 L217.24,307.56 L217.79,306.89 L218.35,306.22 L218.91,305.57 L219.47,304.92 L220.03,304.29 L220.59,303.67 L221.15,303.07 L221.71,302.48 L222.27,301.91 L222.83,301.36 L223.39,300.83 L223.95,300.32 L224.51,299.84 L225.07,299.38 L225.63,298.94 L226.19,298.54 L226.75,298.17 L227.31,297.82 L227.86,297.51 L228.42,297.23 L228.98,296.99 L229.54,296.79 L230.10,296.60 L230.66,296.41 L231.22,296.23 L231.78,296.05 L232.34,295.88 L232.90,295.72 L233.46,295.57 L234.02,295.43 L234.58,295.30 L235.14,295.19 L235.70,295.09 L236.26,295.02 L236.82,294.96 L237.38,294.93 L237.93,294.92 L238.49,294.94 L239.05,295.01 L239.61,295.12 L240.17,295.26 L240.73,295.45 L241.29,295.66 L241.85,295.91 L242.41,296.19 L242.97,296.50 L243.53,296.83 L244.09,297.18 L244.65,297.55 L245.21,297.95 L245.77,298.35 L246.33,298.78 L246.89,299.21 L247.45,299.65 L248.01,300.10 L248.56,300.56 L249.12,301.02 L249.68,301.48 L250.24,301.93 L250.80,302.40 L251.36,302.90 L251.92,303.44 L252.48,304.03 L253.04,304.66 L253.60,305.32 L254.16,306.02 L254.72,306.76 L255.28,307.53 L255.84,308.32 L256.40,309.15 L256.96,310.00 L257.52,310.88 L258.08,311.78 L258.63,312.70 L259.19,313.64 L259.75,314.60 L260.31,315.58 L260.87,316.56 L261.43,317.56 L261.99,318.57 L262.55,319.59 L263.11,320.62 L263.67,321.65 L264.23,322.68 L264.79,323.72 L265.35,324.75 L265.91,325.78 L266.47,326.81 L267.03,327.83 L267.59,328.84 L268.15,329.84 L268.70,330.83 L269.26,331.81 L269.82,332.77 L270.38,333.72 L270.94,334.64 L271.50,335.55 L272.06,336.45 L272.62,337.37 L273.18,338.29 L273.74,339.23 L274.30,340.17 L274.86,341.12 L275.42,342.07 L275.98,343.03 L276.54,343.99 L277.10,344.96 L277.66,345.93 L278.22,346.90 L278.77,347.87 L279.33,348.84 L279.89,349.81 L280.45,350.77 L281.01,351.74 L281.57,352.70 L282.13,353.66 L282.69,354.61 L283.25,355.55 L283.81,356.49 L284.37,357.42 L284.93,358.35 L285.49,359.26 L286.05,360.16 L286.61,361.05 L287.17,361.93 L287.73,362.79 L288.29,363.64 L288.85,364.48 L289.40,365.30 L289.96,366.10 L290.52,366.89 L291.08,367.65 L291.64,368.40 L292.20,369.13 L292.76,369.84 L293.32,370.55 L293.88,371.25 L294.44,371.95 L295.00,372.64 L295.56,373.33 L296.12,374.01 L296.68,374.69 L297.24,375.35 L297.80,376.02 L298.36,376.68 L298.92,377.33 L299.47,377.97 L300.03,378.61 L300.59,379.24 L301.15,379.86 L301.71,380.48 L302.27,381.09 L302.83,381.69 L303.39,382.28 L303.95,382.87 L304.51,383.44 L305.07,384.01 L305.63,384.57 L306.19,385.12 L306.75,385.67 L307.31,386.20 L307.87,386.73 L308.43,387.24 L308.99,387.75 L309.54,388.24 L310.10,388.73 L310.66,389.21 L311.22,389.67 L311.78,390.13 L312.34,390.58 L312.90,391.01 L313.46,391.44 L314.02,391.85 L314.58,392.27 L315.14,392.67 L315.70,393.08 L316.26,393.47 L316.82,393.87 L317.38,394.25 L317.94,394.63 L318.50,395.01 L319.06,395.38 L319.61,395.75 L320.17,396.11 L320.73,396.47 L321.29,396.82 L321.85,397.17 L322.41,397.51 L322.97,397.85 L323.53,398.18 L324.09,398.51 L324.65,398.83 L325.21,399.15 L325.77,399.46 L326.33,399.77 L326.89,400.08 L327.45,400.37 L328.01,400.67 L328.57,400.96 L329.13,401.24 L329.69,401.52 L330.24,401.80 L330.80,402.07 L331.36,402.34 L331.92,402.60 L332.48,402.86 L333.04,403.11 L333.60,403.36 L334.16,403.60 L334.72,403.84 L335.28,404.07 L335.84,404.31 L336.40,404.54 L336.96,404.76 L337.52,404.99 L338.08,405.21 L338.64,405.43 L339.20,405.64 L339.76,405.85 L340.31,406.06 L340.87,406.27 L341.43,406.47 L341.99,406.67 L342.55,406.87 L343.11,407.06 L343.67,407.25 L344.23,407.45 L344.79,407.63 L345.35,407.82 L345.91,408.00 L346.47,408.18 L347.03,408.36 L347.59,408.54 L348.15,408.71 L348.71,408.88 L349.27,409.05 L349.83,409.22 L350.38,409.38 L350.94,409.55 L351.50,409.71 L352.06,409.87 L352.62,410.03 L353.18,410.18 L353.74,410.34 L354.30,410.49 L354.86,410.64 L355.42,410.79 L355.98,410.94 L356.54,411.08 L357.10,411.22 L357.66,411.36 L358.22,411.49 L358.78,411.62 L359.34,411.75 L359.90,411.87 L360.45,411.99 L361.01,412.11 L361.57,412.23 L362.13,412.35" fill="none" stroke="#2b4aa3" stroke-width="1.35" stroke-linejoin="round" stroke-linecap="round"/>
<path d="M82.97,390.41 L83.53,390.30 L84.09,390.19 L84.65,390.07 L85.20,389.96 L85.76,389.85 L86.32,389.73 L86.88,389.62 L87.44,389.50 L88.00,389.39 L88.56,389.27 L89.12,389.15 L89.68,389.04 L90.24,388.92 L90.80,388.80 L91.36,388.69 L91.92,388.57 L92.48,388.45 L93.04,388.34 L93.60,388.22 L94.16,388.11 L94.72,387.99 L95.27,387.88 L95.83,387.76 L96.39,387.65 L96.95,387.53 L97.51,387.42 L98.07,387.30 L98.63,387.19 L99.19,387.07 L99.75,386.95 L100.31,386.84 L100.87,386.72 L101.43,386.60 L101.99,386.48 L102.55,386.36 L103.11,386.24 L103.67,386.11 L104.23,385.99 L104.79,385.86 L105.34,385.74 L105.90,385.61 L106.46,385.48 L107.02,385.35 L107.58,385.22 L108.14,385.08 L108.70,384.95 L109.26,384.81 L109.82,384.67 L110.38,384.53 L110.94,384.38 L111.50,384.24 L112.06,384.09 L112.62,383.94 L113.18,383.79 L113.74,383.64 L114.30,383.48 L114.86,383.33 L115.41,383.17 L115.97,383.01 L116.53,382.85 L117.09,382.69 L117.65,382.52 L118.21,382.36 L118.77,382.19 L119.33,382.02 L119.89,381.85 L120.45,381.68 L121.01,381.50 L121.57,381.33 L122.13,381.15 L122.69,380.97 L123.25,380.79 L123.81,380.60 L124.37,380.42 L124.93,380.23 L125.49,380.04 L126.04,379.85 L126.60,379.66 L127.16,379.47 L127.72,379.27 L128.28,379.08 L128.84,378.88 L129.40,378.68 L129.96,378.47 L130.52,378.27 L131.08,378.07 L131.64,377.86 L132.20,377.65 L132.76,377.44 L133.32,377.22 L133.88,377.01 L134.44,376.79 L135.00,376.56 L135.56,376.34 L136.11,376.11 L136.67,375.88 L137.23,375.65 L137.79,375.41 L138.35,375.18 L138.91,374.94 L139.47,374.69 L140.03,374.45 L140.59,374.20 L141.15,373.95 L141.71,373.70 L142.27,373.44 L142.83,373.19 L143.39,372.93 L143.95,372.67 L144.51,372.40 L145.07,372.13 L145.63,371.87 L146.18,371.59 L146.74,371.32 L147.30,371.04 L147.86,370.76 L148.42,370.48 L148.98,370.20 L149.54,369.91 L150.10,369.63 L150.66,369.34 L151.22,369.04 L151.78,368.75 L152.34,368.45 L152.90,368.15 L153.46,367.85 L154.02,367.54 L154.58,367.23 L155.14,366.92 L155.70,366.60 L156.25,366.29 L156.81,365.96 L157.37,365.64 L157.93,365.31 L158.49,364.97 L159.05,364.64 L159.61,364.30 L160.17,363.96 L160.73,363.61 L161.29,363.26 L161.85,362.91 L162.41,362.55 L162.97,362.19 L163.53,361.83 L164.09,361.46 L164.65,361.09 L165.21,360.72 L165.77,360.34 L166.33,359.96 L166.88,359.58 L167.44,359.19 L168.00,358.80 L168.56,358.40 L169.12,358.00 L169.68,357.60 L170.24,357.20 L170.80,356.79 L171.36,356.38 L171.92,355.96 L172.48,355.54 L173.04,355.12 L173.60,354.69 L174.16,354.26 L174.72,353.82 L175.28,353.38 L175.84,352.92 L176.40,352.46 L176.95,352.00 L177.51,351.52 L178.07,351.04 L178.63,350.56 L179.19,350.06 L179.75,349.57 L180.31,349.06 L180.87,348.55 L181.43,348.04 L181.99,347.52 L182.55,347.00 L183.11,346.47 L183.67,345.94 L184.23,345.41 L184.79,344.87 L185.35,344.33 L185.91,343.79 L186.47,343.24 L187.02,342.69 L187.58,342.14 L188.14,341.59 L188.70,341.03 L189.26,340.48 L189.82,339.92 L190.38,339.36 L190.94,338.80 L191.50,338.24 L192.06,337.68 L192.62,337.11 L193.18,336.55 L193.74,335.99 L194.30,335.43 L194.86,334.87 L195.42,334.30 L195.98,333.72 L196.54,333.12 L197.09,332.51 L197.65,331.90 L198.21,331.27 L198.77,330.64 L199.33,330.00 L199.89,329.36 L200.45,328.71 L201.01,328.05 L201.57,327.40 L202.13,326.73 L202.69,326.07 L203.25,325.41 L203.81,324.75 L204.37,324.09 L204.93,323.43 L205.49,322.77 L206.05,322.12 L206.61,321.47 L207.17,320.83 L207.72,320.20 L208.28,319.57 L208.84,318.95 L209.40,318.34 L209.96,317.75 L210.52,317.16 L211.08,316.58 L211.64,316.02 L212.20,315.47 L212.76,314.94 L213.32,314.42 L213.88,313.92 L214.44,313.44 L215.00,312.97 L215.56,312.53 L216.12,312.09 L216.68,311.65 L217.24,311.21 L217.79,310.76 L218.35,310.31 L218.91,309.86 L219.47,309.41 L220.03,308.96 L220.59,308.51 L221.15,308.07 L221.71,307.63 L222.27,307.19 L222.83,306.76 L223.39,306.33 L223.95,305.91 L224.51,305.49 L225.07,305.08 L225.63,304.69 L226.19,304.30 L226.75,303.92 L227.31,303.55 L227.86,303.20 L228.42,302.85 L228.98,302.52 L229.54,302.21 L230.10,301.91 L230.66,301.62 L231.22,301.36 L231.78,301.11 L232.34,300.87 L232.90,300.66 L233.46,300.47 L234.02,300.30 L234.58,300.14 L235.14,300.01 L235.70,299.91 L236.26,299.83 L236.82,299.77 L237.38,299.71 L237.93,299.66 L238.49,299.62 L239.05,299.60 L239.61,299.61 L240.17,299.67 L240.73,299.79 L241.29,299.95 L241.85,300.17 L242.41,300.44 L242.97,300.75 L243.53,301.11 L244.09,301.51 L244.65,301.95 L245.21,302.42 L245.77,302.93 L246.33,303.47 L246.89,304.04 L247.45,304.64 L248.01,305.26 L248.56,305.91 L249.12,306.57 L249.68,307.26 L250.24,307.96 L250.80,308.67 L251.36,309.40 L251.92,310.13 L252.48,310.88 L253.04,311.62 L253.60,312.37 L254.16,313.12 L254.72,313.87 L255.28,314.61 L255.84,315.34 L256.40,316.07 L256.96,316.78 L257.52,317.48 L258.08,318.20 L258.63,318.95 L259.19,319.73 L259.75,320.54 L260.31,321.37 L260.87,322.24 L261.43,323.12 L261.99,324.03 L262.55,324.96 L263.11,325.91 L263.67,326.88 L264.23,327.87 L264.79,328.87 L265.35,329.88 L265.91,330.91 L266.47,331.95 L267.03,332.99 L267.59,334.04 L268.15,335.10 L268.70,336.16 L269.26,337.22 L269.82,338.29 L270.38,339.35 L270.94,340.41 L271.50,341.46 L272.06,342.51 L272.62,343.56 L273.18,344.59 L273.74,345.61 L274.30,346.62 L274.86,347.62 L275.42,348.60 L275.98,349.57 L276.54,350.51 L277.10,351.44 L277.66,352.34 L278.22,353.23 L278.77,354.09 L279.33,354.95 L279.89,355.82 L280.45,356.69 L281.01,357.55 L281.57,358.42 L282.13,359.29 L282.69,360.15 L283.25,361.02 L283.81,361.88 L284.37,362.74 L284.93,363.59 L285.49,364.44 L286.05,365.29 L286.61,366.13 L287.17,366.97 L287.73,367.80 L288.29,368.62 L288.85,369.43 L289.40,370.24 L289.96,371.04 L290.52,371.83 L291.08,372.61 L291.64,373.38 L292.20,374.14 L292.76,374.89 L293.32,375.62 L293.88,376.35 L294.44,377.06 L295.00,377.75 L295.56,378.44 L296.12,379.11 L296.68,379.76 L297.24,380.40 L297.80,381.02 L298.36,381.62 L298.92,382.21 L299.47,382.78 L300.03,383.34 L300.59,383.89 L301.15,384.43 L301.71,384.97 L302.27,385.50 L302.83,386.03 L303.39,386.55 L303.95,387.06 L304.51,387.56 L305.07,388.06 L305.63,388.55 L306.19,389.04 L306.75,389.51 L307.31,389.99 L307.87,390.45 L308.43,390.91 L308.99,391.36 L309.54,391.81 L310.10,392.25 L310.66,392.68 L311.22,393.11 L311.78,393.53 L312.34,393.95 L312.90,394.36 L313.46,394.76 L314.02,395.16 L314.58,395.55 L315.14,395.93 L315.70,396.31 L316.26,396.69 L316.82,397.05 L317.38,397.42 L317.94,397.77 L318.50,398.12 L319.06,398.47 L319.61,398.80 L320.17,399.14 L320.73,399.47 L321.29,399.79 L321.85,400.11 L322.41,400.43 L322.97,400.75 L323.53,401.06 L324.09,401.37 L324.65,401.67 L325.21,401.98 L325.77,402.28 L326.33,402.57 L326.89,402.86 L327.45,403.15 L328.01,403.44 L328.57,403.72 L329.13,404.00 L329.69,404.27 L330.24,404.54 L330.80,404.81 L331.36,405.07 L331.92,405.33 L332.48,405.58 L333.04,405.83 L333.60,406.08 L334.16,406.32 L334.72,406.56 L335.28,406.79 L335.84,407.02 L336.40,407.25 L336.96,407.47 L337.52,407.68 L338.08,407.90 L338.64,408.10 L339.20,408.31 L339.76,408.51 L340.31,408.70 L340.87,408.89 L341.43,409.08 L341.99,409.26 L342.55,409.44 L343.11,409.62 L343.67,409.80 L344.23,409.98 L344.79,410.15 L345.35,410.33 L345.91,410.50 L346.47,410.67 L347.03,410.83 L347.59,411.00 L348.15,411.16 L348.71,411.32 L349.27,411.48 L349.83,411.64 L350.38,411.79 L350.94,411.95 L351.50,412.09 L352.06,412.24 L352.62,412.38 L353.18,412.52 L353.74,412.66 L354.30,412.80 L354.86,412.93 L355.42,413.06 L355.98,413.18 L356.54,413.30 L357.10,413.42 L357.66,413.54 L358.22,413.65 L358.78,413.76 L359.34,413.86 L359.90,413.96 L360.45,414.06 L361.01,414.15 L361.57,414.24 L362.13,414.32" fill="none" stroke="#e8401c" stroke-width="1.35" stroke-linejoin="round" stroke-linecap="round"/>
<circle cx="82.97" cy="391.79" r="3.05" fill="#3f4b8a" stroke="#2a48a3" stroke-width="1.1"/>
<circle cx="103.90" cy="387.40" r="3.05" fill="#3f4b8a" stroke="#2a48a3" stroke-width="1.1"/>
<circle cx="124.84" cy="381.39" r="3.05" fill="#3f4b8a" stroke="#2a48a3" stroke-width="1.1"/>
<circle cx="145.78" cy="372.81" r="3.05" fill="#3f4b8a" stroke="#2a48a3" stroke-width="1.1"/>
<circle cx="166.72" cy="360.19" r="3.05" fill="#3f4b8a" stroke="#2a48a3" stroke-width="1.1"/>
<circle cx="187.65" cy="342.15" r="3.05" fill="#3f4b8a" stroke="#2a48a3" stroke-width="1.1"/>
<circle cx="208.59" cy="317.89" r="3.05" fill="#3f4b8a" stroke="#2a48a3" stroke-width="1.1"/>
<circle cx="229.53" cy="296.79" r="3.05" fill="#3f4b8a" stroke="#2a48a3" stroke-width="1.1"/>
<circle cx="250.47" cy="302.11" r="3.05" fill="#3f4b8a" stroke="#2a48a3" stroke-width="1.1"/>
<circle cx="271.40" cy="335.39" r="3.05" fill="#3f4b8a" stroke="#2a48a3" stroke-width="1.1"/>
<circle cx="292.34" cy="369.31" r="3.05" fill="#3f4b8a" stroke="#2a48a3" stroke-width="1.1"/>
<circle cx="313.28" cy="391.30" r="3.05" fill="#3f4b8a" stroke="#2a48a3" stroke-width="1.1"/>
<circle cx="334.22" cy="403.62" r="3.05" fill="#3f4b8a" stroke="#2a48a3" stroke-width="1.1"/>
<circle cx="355.15" cy="410.72" r="3.05" fill="#3f4b8a" stroke="#2a48a3" stroke-width="1.1"/>
<rect x="86.90" y="385.93" width="6.10" height="6.10" fill="#c85a36" stroke="#e53c18" stroke-width="1.1"/>
<rect x="107.83" y="381.35" width="6.10" height="6.10" fill="#c85a36" stroke="#e53c18" stroke-width="1.1"/>
<rect x="128.77" y="374.74" width="6.10" height="6.10" fill="#c85a36" stroke="#e53c18" stroke-width="1.1"/>
<rect x="149.71" y="365.18" width="6.10" height="6.10" fill="#c85a36" stroke="#e53c18" stroke-width="1.1"/>
<rect x="170.65" y="351.57" width="6.10" height="6.10" fill="#c85a36" stroke="#e53c18" stroke-width="1.1"/>
<rect x="191.58" y="332.05" width="6.10" height="6.10" fill="#c85a36" stroke="#e53c18" stroke-width="1.1"/>
<rect x="212.52" y="309.47" width="6.10" height="6.10" fill="#c85a36" stroke="#e53c18" stroke-width="1.1"/>
<rect x="233.46" y="296.75" width="6.10" height="6.10" fill="#c85a36" stroke="#e53c18" stroke-width="1.1"/>
<rect x="254.40" y="314.35" width="6.10" height="6.10" fill="#c85a36" stroke="#e53c18" stroke-width="1.1"/>
<rect x="275.33" y="350.44" width="6.10" height="6.10" fill="#c85a36" stroke="#e53c18" stroke-width="1.1"/>
<rect x="296.27" y="379.57" width="6.10" height="6.10" fill="#c85a36" stroke="#e53c18" stroke-width="1.1"/>
<rect x="317.21" y="396.14" width="6.10" height="6.10" fill="#c85a36" stroke="#e53c18" stroke-width="1.1"/>
<rect x="338.15" y="405.95" width="6.10" height="6.10" fill="#c85a36" stroke="#e53c18" stroke-width="1.1"/>
<rect x="359.08" y="411.27" width="6.10" height="6.10" fill="#c85a36" stroke="#e53c18" stroke-width="1.1"/>
<rect x="55.05" y="283.05" width="335.00" height="143.05" fill="none" stroke="#151515" stroke-width="1.35"/>
<text transform="translate(127.03 449.03) scale(1.0200 1.0176)" font-size="22">15</text>
<text transform="translate(267.10 449.03) scale(1.0200 1.0101)" font-size="22">20</text>
<text transform="translate(35.40 384.60) scale(1.0500 1.0331)" font-size="22">1</text>
<text transform="translate(35.85 335.30) scale(1.0500 1.0299)" font-size="22">2</text>
<line x1="530.60" y1="426.10" x2="530.60" y2="414.30" stroke="#8c8c8c" stroke-width="1"/>
<line x1="530.60" y1="283.05" x2="530.60" y2="294.85" stroke="#8c8c8c" stroke-width="1"/>
<line x1="671.49" y1="426.10" x2="671.49" y2="414.30" stroke="#8c8c8c" stroke-width="1"/>
<line x1="671.49" y1="283.05" x2="671.49" y2="294.85" stroke="#8c8c8c" stroke-width="1"/>
<line x1="449.10" y1="420.40" x2="460.90" y2="420.40" stroke="#8c8c8c" stroke-width="1"/>
<line x1="784.10" y1="420.40" x2="772.30" y2="420.40" stroke="#8c8c8c" stroke-width="1"/>
<line x1="449.10" y1="367.50" x2="460.90" y2="367.50" stroke="#8c8c8c" stroke-width="1"/>
<line x1="784.10" y1="367.50" x2="772.30" y2="367.50" stroke="#8c8c8c" stroke-width="1"/>
<line x1="449.10" y1="314.60" x2="460.90" y2="314.60" stroke="#8c8c8c" stroke-width="1"/>
<line x1="784.10" y1="314.60" x2="772.30" y2="314.60" stroke="#8c8c8c" stroke-width="1"/>
<path d="M477.05,408.76 L487.79,410.35 L498.53,410.40 L509.26,410.40 L520.00,410.40 L530.74,410.40 L541.47,410.40 L552.21,410.40 L562.95,410.40 L573.68,410.30 L584.42,409.08 L595.16,400.51 L605.89,384.16 L616.63,356.92 L627.36,329.41 L638.10,301.69 L648.84,302.86 L659.57,323.59 L670.31,344.38 L681.05,354.80 L691.78,364.70 L702.52,372.53 L713.26,376.49 L723.99,380.72 L734.73,384.48 L745.47,386.28 L756.20,388.29" fill="none" stroke="#2b4aa3" stroke-width="1.35" stroke-linejoin="round" stroke-linecap="round"/>
<path d="M477.05,413.42 L487.79,414.05 L498.53,414.05 L509.26,414.05 L520.00,414.05 L530.74,414.05 L541.47,414.05 L552.21,414.05 L562.95,414.05 L573.68,413.95 L584.42,413.68 L595.16,404.79 L605.89,388.66 L616.63,361.52 L627.36,328.35 L638.10,295.56 L648.84,294.71 L659.57,316.72 L670.31,338.72 L681.05,350.31 L691.78,360.62 L702.52,370.67 L713.26,374.06 L723.99,378.61 L734.73,382.31 L745.47,385.01 L756.20,387.71" fill="none" stroke="#e8401c" stroke-width="1.35" stroke-linejoin="round" stroke-linecap="round"/>
<circle cx="477.05" cy="408.76" r="3.05" fill="#3f4b8a" stroke="#2a48a3" stroke-width="1.1"/>
<circle cx="509.26" cy="410.40" r="3.05" fill="#3f4b8a" stroke="#2a48a3" stroke-width="1.1"/>
<circle cx="541.47" cy="410.40" r="3.05" fill="#3f4b8a" stroke="#2a48a3" stroke-width="1.1"/>
<circle cx="573.68" cy="410.30" r="3.05" fill="#3f4b8a" stroke="#2a48a3" stroke-width="1.1"/>
<circle cx="605.89" cy="384.16" r="3.05" fill="#3f4b8a" stroke="#2a48a3" stroke-width="1.1"/>
<circle cx="638.10" cy="301.69" r="3.05" fill="#3f4b8a" stroke="#2a48a3" stroke-width="1.1"/>
<circle cx="670.31" cy="344.38" r="3.05" fill="#3f4b8a" stroke="#2a48a3" stroke-width="1.1"/>
<circle cx="702.52" cy="372.53" r="3.05" fill="#3f4b8a" stroke="#2a48a3" stroke-width="1.1"/>
<circle cx="734.73" cy="384.48" r="3.05" fill="#3f4b8a" stroke="#2a48a3" stroke-width="1.1"/>
<rect x="484.74" y="411.00" width="6.10" height="6.10" fill="#c85a36" stroke="#e53c18" stroke-width="1.1"/>
<rect x="516.95" y="411.00" width="6.10" height="6.10" fill="#c85a36" stroke="#e53c18" stroke-width="1.1"/>
<rect x="549.16" y="411.00" width="6.10" height="6.10" fill="#c85a36" stroke="#e53c18" stroke-width="1.1"/>
<rect x="581.37" y="410.63" width="6.10" height="6.10" fill="#c85a36" stroke="#e53c18" stroke-width="1.1"/>
<rect x="613.58" y="358.47" width="6.10" height="6.10" fill="#c85a36" stroke="#e53c18" stroke-width="1.1"/>
<rect x="645.79" y="291.66" width="6.10" height="6.10" fill="#c85a36" stroke="#e53c18" stroke-width="1.1"/>
<rect x="678.00" y="347.26" width="6.10" height="6.10" fill="#c85a36" stroke="#e53c18" stroke-width="1.1"/>
<rect x="710.21" y="371.01" width="6.10" height="6.10" fill="#c85a36" stroke="#e53c18" stroke-width="1.1"/>
<rect x="742.42" y="381.96" width="6.10" height="6.10" fill="#c85a36" stroke="#e53c18" stroke-width="1.1"/>
<rect x="449.10" y="283.05" width="335.00" height="143.05" fill="none" stroke="#151515" stroke-width="1.35"/>
<text transform="translate(524.99 449.03) scale(1.0200 1.0101)" font-size="22">0</text>
<text transform="translate(665.67 449.02) scale(1.0200 1.0253)" font-size="22">5</text>
<text transform="translate(429.78 427.68) scale(1.0500 1.0101)" font-size="22">0</text>
<text transform="translate(429.45 375.00) scale(1.0500 1.0331)" font-size="22">1</text>
<text transform="translate(429.90 322.10) scale(1.0500 1.0299)" font-size="22">2</text>
<text transform="translate(142.88 255.60) scale(0.9978 0.9966)" font-size="24">wavelength / nm</text>
<text transform="translate(536.98 255.60) scale(0.9978 0.9966)" font-size="24">wavelength / nm</text>
<text transform="translate(199.30 480.86) scale(0.9773 0.9111)" font-size="24" font-style="italic" font-family="'DejaVu Serif', serif">ϑ</text>
<text transform="translate(222.70 480.85) scale(1.0791 1.0526)" font-size="24" class="sl">/</text>
<text transform="translate(235.77 479.00) scale(0.9832 0.9213)" font-size="24" class="dg">°</text>
<text transform="translate(593.40 480.86) scale(0.9773 0.9111)" font-size="24" font-style="italic" font-family="'DejaVu Serif', serif">ϑ</text>
<text transform="translate(616.80 480.85) scale(1.0791 1.0526)" font-size="24" class="sl">/</text>
<text transform="translate(629.87 479.00) scale(0.9832 0.9213)" font-size="24" class="dg">°</text>
<g transform="translate(16.8 130.40) rotate(-90)">
<text transform="translate(-65.21 0) scale(1.0171 1.04)" font-size="24">intensiy / a.u.</text>
</g>
<g transform="translate(16.8 355.25) rotate(-90)">
<text transform="translate(-65.21 0) scale(1.0171 1.04)" font-size="24">intensiy / a.u.</text>
</g>
<text transform="translate(72.33 85.46) scale(1.0525 1.0166)" font-size="22">D2</text>
<text transform="translate(73.51 111.19) scale(0.9725 0.8777)" font-size="22" font-style="italic" font-family="'DejaVu Serif', serif">ϑ</text>
<text transform="translate(93.61 113.66) scale(1.4467 1.1000)" font-size="22">=</text>
<text transform="translate(116.01 110.97) scale(1.0211 1.0349)" font-size="22">25</text>
<text transform="translate(138.03 110.12) scale(1.0126 1.0201)" font-size="22" class="dg">°</text>
<text transform="translate(466.70 85.45) scale(0.9473 1.0193)" font-size="22">E1</text>
<text transform="translate(467.29 111.19) scale(0.9869 0.8777)" font-size="22" font-style="italic" font-family="'DejaVu Serif', serif">ϑ</text>
<text transform="translate(487.69 113.66) scale(1.4614 1.1000)" font-size="22">=</text>
<text transform="translate(509.60 110.97) scale(1.0151 1.0458)" font-size="22">5</text>
<text transform="translate(521.00 110.12) scale(1.0426 1.0201)" font-size="22" class="dg">°</text>
<text transform="translate(72.33 315.86) scale(1.0525 1.0131)" font-size="22">D2</text>
<text transform="translate(74.28 341.60) scale(1.2942 1.0783)" font-size="22" font-style="italic">λ</text>
<text transform="translate(91.86 343.77) scale(1.4907 1.0909)" font-size="22">=</text>
<text transform="translate(114.47 341.37) scale(0.9809 1.0417)" font-size="22">625</text>
<text transform="translate(150.09 341.60) scale(1.0052 1.0616)" font-size="22">nm</text>
<text transform="translate(466.64 310.50) scale(0.9540 1.0331)" font-size="22">E1</text>
<text transform="translate(468.20 335.80) scale(1.3258 1.0783)" font-size="22" font-style="italic">λ</text>
<text transform="translate(486.21 337.87) scale(1.4418 1.0909)" font-size="22">=</text>
<text transform="translate(508.05 335.52) scale(0.9810 1.0370)" font-size="22">550</text>
<text transform="translate(544.24 335.75) scale(1.0034 1.0616)" font-size="22">nm</text>
<text transform="translate(208.18 518.13) scale(1.0499 0.9973)" font-size="22" font-weight="bold">(a)</text>
<text transform="translate(601.94 518.13) scale(1.0903 0.9973)" font-size="22" font-weight="bold">(b)</text>
</svg>
</body></html>
